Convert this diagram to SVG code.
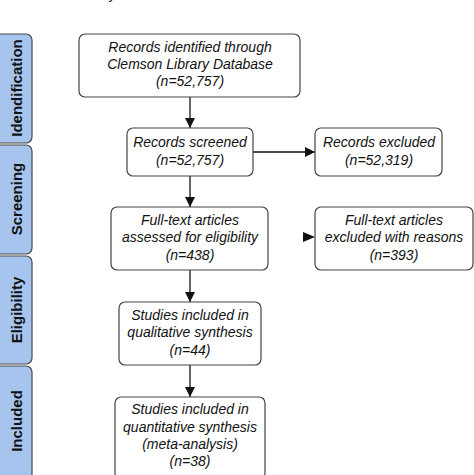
<svg xmlns="http://www.w3.org/2000/svg" width="474" height="475" viewBox="0 0 474 475">
<defs>
<style>
.box{fill:#fff;stroke:#444;stroke-width:1.2}
.phase{fill:#a6c4ee;stroke:#4a4a4a;stroke-width:1.2}
.t{font-family:"Liberation Sans",Arial,sans-serif;font-size:14px;font-style:italic;fill:#111;text-anchor:middle}
.p{font-family:"Liberation Sans",Arial,sans-serif;font-size:15px;font-weight:bold;fill:#111;text-anchor:middle}
.c{stroke:#111;stroke-width:1.3;fill:none}
</style>
<marker id="ah" viewBox="0 0 10 10" refX="10" refY="5" markerWidth="10" markerHeight="10" markerUnits="userSpaceOnUse" orient="auto">
<path d="M0,0 L10,5 L0,10 z" fill="#111"/>
</marker>
</defs>
<rect width="474" height="475" fill="#fff"/>
<text class="t" x="112" y="-1" style="font-style:normal">y</text>

<g id="phases">
<g id="phase-identification"><rect class="phase" x="-8" y="34" width="40" height="109" rx="6"/><text class="p" transform="translate(22,88) rotate(-90)">Idendification</text></g>
<g id="phase-screening"><rect class="phase" x="-8" y="145" width="40" height="109" rx="6"/><text class="p" transform="translate(22,199) rotate(-90)">Screening</text></g>
<g id="phase-eligibility"><rect class="phase" x="-8" y="256" width="40" height="108" rx="6"/><text class="p" transform="translate(22,310) rotate(-90)">Eligibility</text></g>
<g id="phase-included"><rect class="phase" x="-8" y="366" width="40" height="120" rx="6"/><text class="p" transform="translate(22,421) rotate(-90)">Included</text></g>
</g>

<g id="connectors">
<line class="c" x1="190" y1="97" x2="190" y2="128" marker-end="url(#ah)"/>
<line class="c" x1="253" y1="152" x2="315" y2="152" marker-end="url(#ah)"/>
<line class="c" x1="190" y1="176" x2="190" y2="207" marker-end="url(#ah)"/>
<path d="M303,232 L315,237 L303,242 z" fill="#111"/>
<line class="c" x1="190" y1="270" x2="190" y2="302" marker-end="url(#ah)"/>
<line class="c" x1="190" y1="365" x2="190" y2="397" marker-end="url(#ah)"/>
</g>

<g id="n1"><rect class="box" x="79" y="34" width="221" height="63" rx="6"/>
<text class="t" x="190" y="52">Records identified through</text>
<text class="t" x="190" y="69">Clemson Library Database</text>
<text class="t" x="190" y="86">(n=52,757)</text></g>

<g id="n2"><rect class="box" x="127" y="128" width="126" height="48" rx="6"/>
<text class="t" x="190" y="147">Records screened</text>
<text class="t" x="190" y="165">(n=52,757)</text></g>

<g id="n3"><rect class="box" x="315" y="128" width="127" height="48" rx="6"/>
<text class="t" x="379" y="147">Records excluded</text>
<text class="t" x="379" y="165">(n=52,319)</text></g>

<g id="n4"><rect class="box" x="111" y="207" width="157" height="63" rx="6"/>
<text class="t" x="190" y="225">Full-text articles</text>
<text class="t" x="190" y="242">assessed for eligibility</text>
<text class="t" x="190" y="260">(n=438)</text></g>

<g id="n5"><rect class="box" x="315" y="207" width="158" height="63" rx="6"/>
<text class="t" x="394" y="225">Full-text articles</text>
<text class="t" x="394" y="242">excluded with reasons</text>
<text class="t" x="394" y="260">(n=393)</text></g>

<g id="n6"><rect class="box" x="119" y="302" width="142" height="63" rx="6"/>
<text class="t" x="190" y="320">Studies included in</text>
<text class="t" x="190" y="337">qualitative synthesis</text>
<text class="t" x="190" y="355">(n=44)</text></g>

<g id="n7"><rect class="box" x="115" y="397" width="150" height="82" rx="6"/>
<text class="t" x="190" y="414">Studies included in</text>
<text class="t" x="190" y="432">quantitative synthesis</text>
<text class="t" x="190" y="449">(meta-analysis)</text>
<text class="t" x="190" y="466">(n=38)</text></g>
</svg>
